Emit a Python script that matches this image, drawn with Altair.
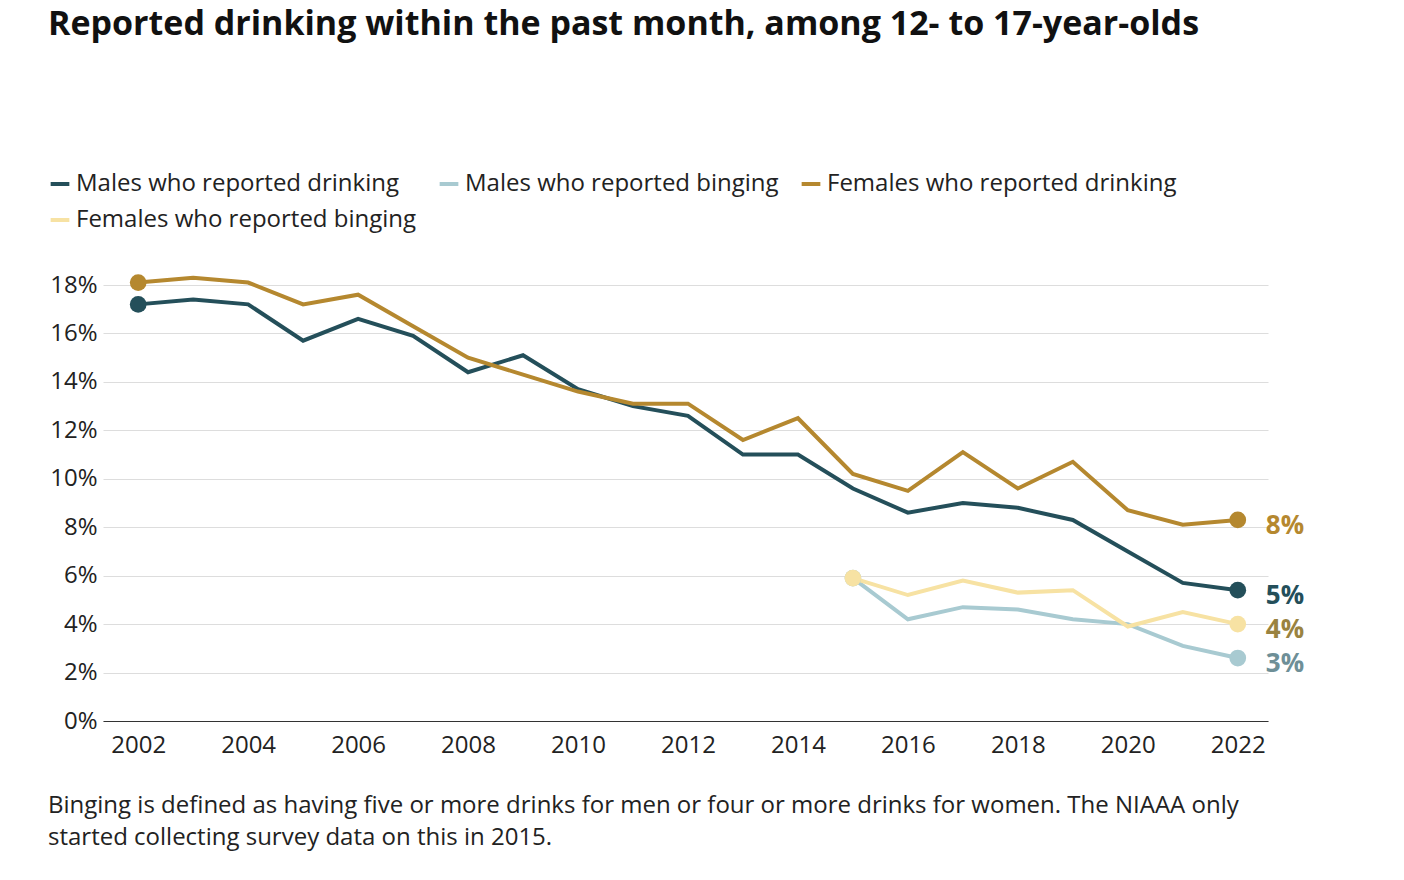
import altair as alt
import pandas as pd

years = list(range(2002, 2023))
males_drink = [17.2,17.4,17.2,15.7,16.6,15.9,14.4,15.1,13.7,13.0,12.6,11.0,11.0,9.6,8.6,9.0,8.8,8.3,7.0,5.7,5.4]
females_drink = [18.1,18.3,18.1,17.2,17.6,16.3,15.0,14.3,13.6,13.1,13.1,11.6,12.5,10.2,9.5,11.1,9.6,10.7,8.7,8.1,8.3]
bin_years = list(range(2015, 2023))
males_binge = [5.9,4.2,4.7,4.6,4.2,4.0,3.1,2.6]
females_binge = [5.9,5.2,5.8,5.3,5.4,3.9,4.5,4.0]
series = ["Males who reported drinking","Females who reported drinking","Males who reported binging","Females who reported binging"]
colors = ["#244f5a","#b5882f","#a8cad1","#f7e2a3"]
end_labels = ["5%","8%","3%","4%"]
label_colors = ["#244f5a","#b5882f","#6e8f97","#9a8340"]

rows = []
for s, ys_, vs in [(series[0], years, males_drink), (series[1], years, females_drink),
                   (series[2], bin_years, males_binge), (series[3], bin_years, females_binge)]:
    for y, v in zip(ys_, vs):
        rows.append({"series": s, "year": y, "value": v})
df = pd.DataFrame(rows)
ends = pd.concat([df.groupby("series").head(1), df.groupby("series").tail(1)])
last = df.groupby("series").tail(1).copy()
last["label"] = last["series"].map(dict(zip(series, end_labels)))

FONT = "Open Sans"
xs = alt.Scale(domain=[2001.36, 2022.55], nice=False, zero=False)
ys = alt.Scale(domain=[0, 18], nice=False)
col = alt.Color("series:N", scale=alt.Scale(domain=series, range=colors),
                legend=alt.Legend(title=None, orient="none", legendX=-55, legendY=-113, columns=3,
                                  values=series, symbolType="stroke", symbolStrokeWidth=4, symbolSize=350,
                                  labelFontSize=24, labelFont=FONT, labelColor="#222",
                                  columnPadding=14, rowPadding=12, labelLimit=500))

x = alt.X("year:Q", scale=xs, axis=alt.Axis(title=None, values=list(range(2002, 2023, 2)), format="d",
          labelFontSize=24, labelFont=FONT, labelColor="#222", grid=False, ticks=False,
          domain=True, domainColor="#333", labelPadding=12))
y = alt.Y("value:Q", scale=ys, axis=alt.Axis(title=None, values=list(range(0, 19, 2)),
          labelExpr="datum.value + '%'", labelFontSize=24, labelFont=FONT, labelColor="#222",
          gridColor="#dddddd", ticks=False, domain=False, labelPadding=6))

lines = alt.Chart(df).mark_line(strokeWidth=4).encode(x=x, y=y, color=col, detail="series:N")
dots = alt.Chart(ends).mark_circle(size=280, opacity=1).encode(x=x, y=y, color=alt.Color("series:N", scale=alt.Scale(domain=series, range=colors), legend=None))
labels = alt.Chart(last).mark_text(align="left", dx=28, dy=6, fontSize=26, fontWeight="bold", font=FONT).encode(
    x=x, y=y, text="label:N",
    color=alt.Color("series:N", scale=alt.Scale(domain=series, range=label_colors), legend=None))

notes = pd.DataFrame({"t": ["Binging is defined as having five or more drinks for men or four or more drinks for women. The NIAAA only",
                            "started collecting survey data on this in 2015.",
                            "Source: National Institute on Alcohol Abuse and Alcoholism"],
                      "py": [521, 553, 604], "fs": [24, 24, 20]})
note = alt.Chart(notes).mark_text(align="left", baseline="middle", font=FONT, color="#222").encode(
    x=alt.value(-55), y=alt.Y("py:Q", scale=None), text="t:N", size=alt.Size("fs:Q", scale=None, legend=None))

chart = alt.layer(lines, dots, labels, note).resolve_scale(color="independent").properties(
    width=1165, height=436,
    title=alt.TitleParams("Reported drinking within the past month, among 12- to 17-year-olds",
                          anchor="start", frame="bounds", fontSize=34, font=FONT, fontWeight="bold",
                          color="#111", offset=130),
    padding={"left": 40, "top": 0, "right": 40, "bottom": 10}
).configure_view(stroke=None)

chart.save("out.html", embed_options={"renderer": "svg", "actions": False})
